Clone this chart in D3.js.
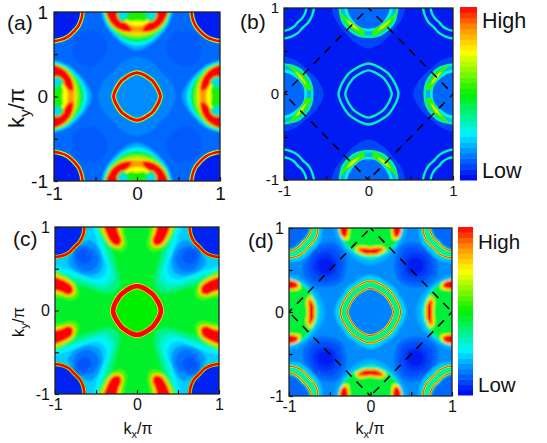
<!DOCTYPE html>
<html>
<head>
<meta charset="utf-8">
<script src="https://cdn.jsdelivr.net/npm/d3@7"></script>
<style>
  html, body { margin: 0; padding: 0; background: #fff; }
  text { font-family: "Liberation Sans", Arial, sans-serif; fill: #111; }
</style>
</head>
<body>
<div id="vis"></div>
<script>
// intensity scale of the colour bars
const stopLevels = [0, 0.13, 0.27, 0.5, 0.74, 0.88, 1];
const stopColors = ["#0000ee", "#0070ff", "#00f4ff", "#00f000", "#ffff00", "#ff9000", "#ff0000"];
const barLevels = d3.range(0, 32);

const tickValues = [-1, -0.5, 0, 0.5, 1];
const tickLabels = ["-1", "", "0", "", "1"];
const diamond = [[-1, 0], [0, 1], [1, 0], [0, -1]];

// contours, in k/pi units, one symmetric part of each
// ring: axis -> diagonal, pocket: axis -> frame, corner: diagonal -> frame
const ringA = [[0.282, 0], [0.261, 0.07], [0.227, 0.131], [0.186, 0.186]];
const glowA = [[0.47, 0], [0.43, 0.13], [0.36, 0.23], [0.29, 0.29]];
const cornerRingA = [[0.765, 0.765], [0.705, 0.835], [0.67, 0.92], [0.655, 1], [0.655, 1.06]];
const pocketA0 = [[0, 0.545], [0.14, 0.6], [0.28, 0.72], [0.38, 0.86], [0.44, 1.06]];
const pocketA1 = [[0, 0.6], [0.14, 0.64], [0.27, 0.74], [0.37, 0.86], [0.43, 1.06]];
const pocketA2 = [[0, 0.645], [0.14, 0.675], [0.26, 0.76], [0.355, 0.87], [0.41, 1.06]];
const pocketA3 = [[0, 0.69], [0.14, 0.715], [0.255, 0.78], [0.345, 0.88], [0.395, 1.06]];
const pocketA4 = [[0, 0.73], [0.13, 0.745], [0.245, 0.8], [0.335, 0.89], [0.38, 1.06]];
const pocketA5 = [[0, 0.76], [0.13, 0.765], [0.24, 0.81], [0.325, 0.9], [0.375, 1.06]];
const pocketA6 = [[0, 0.835], [0.09, 0.85], [0.17, 0.91], [0.235, 1.06]];
const pocketA7 = [[0, 0.9], [0.08, 0.89], [0.15, 0.93], [0.205, 1.06]];
const lobeA = [[0.07, 0.77], [0.2, 0.785], [0.32, 0.88], [0.38, 1.06], [0.25, 1.06], [0.19, 0.91], [0.09, 0.835]];
const holeA1 = [[0.17, 0.88], [0.24, 0.96], [0.17, 1.06], [0.09, 0.97]];
const holeA2 = [[0.17, 0.92], [0.215, 0.965], [0.17, 1.03], [0.125, 0.965]];
const darkA1 = [[0.55, 0.36], [0.75, 0.45], [0.72, 0.72], [0.45, 0.75], [0.36, 0.55]];

const ringB1 = [[0.355, 0], [0.33, 0.088], [0.288, 0.166], [0.236, 0.236]];
const ringB2 = [[0.275, 0], [0.255, 0.068], [0.222, 0.128], [0.182, 0.182]];
const cornerB1 = [[0.775, 0.775], [0.71, 0.835], [0.665, 0.92], [0.645, 1], [0.645, 1.06]];
const cornerB2 = [[0.835, 0.835], [0.785, 0.88], [0.75, 0.94], [0.735, 1], [0.735, 1.06]];
const pocketB0 = [[0, 0.53], [0.16, 0.6], [0.3, 0.74], [0.4, 0.88], [0.45, 1.06]];
const pocketB1 = [[0, 0.65], [0.13, 0.67], [0.24, 0.74], [0.32, 0.84], [0.365, 1.06]];
const pocketB2 = [[0, 0.68], [0.12, 0.7], [0.22, 0.765], [0.295, 0.86], [0.34, 1.06]];
const pocketB3 = [[0, 0.73], [0.1, 0.745], [0.19, 0.81], [0.265, 0.91], [0.295, 1.06]];
const pocketB4 = [[0, 0.76], [0.09, 0.775], [0.17, 0.84], [0.235, 0.94], [0.26, 1.06]];
const lobeB1 = [[0.05, 0.68], [0.17, 0.735], [0.28, 0.84], [0.33, 0.95], [0.25, 0.88], [0.14, 0.79], [0.05, 0.735]];
const lobeB2 = [[0.11, 0.74], [0.19, 0.78], [0.26, 0.86], [0.18, 0.81]];

const ringC = [[0.292, 0], [0.272, 0.073], [0.236, 0.136], [0.193, 0.193]];
const cornerRingC = [[0.76, 0.76], [0.695, 0.825], [0.655, 0.91], [0.64, 1], [0.64, 1.06]];
const wingC1 = [[0.25, 0.25], [0.36, 0.21], [0.52, 0.25], [0.8, 0.33], [1.06, 0.4]];
const wingC2 = [[0.31, 0.31], [0.41, 0.27], [0.56, 0.31], [0.82, 0.4], [1.06, 0.46]];
const wingC3 = [[0.36, 0.36], [0.46, 0.32], [0.62, 0.37], [0.85, 0.45], [1.06, 0.51]];
const wingC4 = [[0.41, 0.41], [0.51, 0.37], [0.68, 0.43], [0.88, 0.5], [1.06, 0.55]];
const blobC1 = [[0.46, 0.46], [0.6, 0.42], [0.76, 0.48], [0.84, 0.58], [0.74, 0.74], [0.58, 0.84], [0.48, 0.76], [0.42, 0.6]];
const blobC2 = [[0.51, 0.51], [0.62, 0.47], [0.74, 0.54], [0.76, 0.76], [0.54, 0.74], [0.47, 0.62]];
const blobC3 = [[0.58, 0.58], [0.66, 0.56], [0.74, 0.66], [0.66, 0.74], [0.56, 0.66]];
const lobeC0 = [[0.17, 0.72], [0.3, 0.74], [0.42, 0.88], [0.48, 1.06], [0.2, 1.06], [0.15, 0.9], [0.13, 0.8]];
const lobeC1 = [[0.2, 0.76], [0.3, 0.77], [0.385, 0.88], [0.43, 1.06], [0.24, 1.06], [0.19, 0.92], [0.17, 0.83]];
const lobeC2 = [[0.21, 0.785], [0.29, 0.79], [0.36, 0.885], [0.405, 1.06], [0.27, 1.06], [0.22, 0.92], [0.19, 0.85]];

const ringD0 = [[0.44, 0], [0.41, 0.11], [0.35, 0.2], [0.29, 0.29]];
const ringD1 = [[0.368, 0], [0.345, 0.092], [0.3, 0.173], [0.245, 0.245]];
const ringD2 = [[0.282, 0], [0.261, 0.07], [0.227, 0.131], [0.186, 0.186]];
const ringD3 = [[0.385, 0], [0.36, 0.096], [0.315, 0.18], [0.258, 0.258]];
const cornerD0 = [[0.72, 0.72], [0.655, 0.78], [0.61, 0.87], [0.59, 1], [0.59, 1.06]];
const cornerD1 = [[0.77, 0.77], [0.705, 0.83], [0.66, 0.91], [0.645, 1], [0.645, 1.06]];
const cornerD2 = [[0.83, 0.83], [0.78, 0.875], [0.74, 0.94], [0.725, 1], [0.725, 1.06]];
const cornerD3 = [[0.755, 0.755], [0.69, 0.815], [0.645, 0.895], [0.63, 1], [0.63, 1.06]];
const cornerD4 = [[0.845, 0.845], [0.8, 0.885], [0.76, 0.95], [0.745, 1], [0.745, 1.06]];
const pocketD0 = [[0, 0.56], [0.18, 0.62], [0.32, 0.76], [0.42, 0.9], [0.46, 1.06]];
const pocketD1 = [[0, 0.625], [0.14, 0.66], [0.27, 0.75], [0.36, 0.87], [0.41, 1.06]];
const pocketD2 = [[0, 0.655], [0.14, 0.685], [0.26, 0.77], [0.35, 0.88], [0.39, 1.06]];
const crescentD0 = [[0, 0.675], [0.1, 0.685], [0.19, 0.74], [0.13, 0.785], [0, 0.775], [-0.13, 0.785], [-0.19, 0.74], [-0.1, 0.685]];
const crescentD1 = [[0, 0.695], [0.08, 0.7], [0.15, 0.75], [0.07, 0.755], [0, 0.75], [-0.07, 0.755], [-0.15, 0.75], [-0.08, 0.7]];
const lobeD0 = [[0.28, 0.86], [0.35, 0.88], [0.385, 1.06], [0.27, 1.06], [0.26, 0.93]];
const lobeD1 = [[0.3, 0.89], [0.35, 0.91], [0.37, 1.06], [0.28, 1.06], [0.28, 0.95]];
const darkD1 = [[0.62, 0.3], [0.82, 0.44], [0.74, 0.74], [0.44, 0.82], [0.3, 0.62], [0.36, 0.36]];
const darkD2 = [[0.62, 0.36], [0.76, 0.46], [0.7, 0.7], [0.46, 0.76], [0.36, 0.62], [0.4, 0.4]];
const darkD3 = [[0.6, 0.42], [0.7, 0.5], [0.66, 0.66], [0.5, 0.7], [0.42, 0.6], [0.45, 0.45]];
const darkD4 = [[0.58, 0.46], [0.64, 0.52], [0.62, 0.62], [0.52, 0.64], [0.46, 0.58], [0.48, 0.48]];

// [kind, contour, intensity, line width in k units (none = filled)]
const layersA = [
  ["spot", darkA1, 0.105],
  ["ring", glowA, 0.15],
  ["corner", cornerRingA, 0.03],
  ["pocket", pocketA0, 0.19], ["pocket", pocketA1, 0.27], ["pocket", pocketA2, 0.45],
  ["pocket", pocketA3, 0.62], ["pocket", pocketA4, 0.78], ["pocket", pocketA5, 0.87],
  ["spot", lobeA, 1], ["pocket", pocketA6, 0.74], ["pocket", pocketA7, 0.52],
  ["spot", holeA1, 0.42], ["spot", holeA2, 0.24],
  ["ring", ringA, 0.16],
  ["ring", ringA, 0.4, 0.07], ["ring", ringA, 0.75, 0.05], ["ring", ringA, 1, 0.036],
  ["corner", cornerRingA, 0.4, 0.06], ["corner", cornerRingA, 0.75, 0.045], ["corner", cornerRingA, 1, 0.031]
];
const layersB = [
  ["pocket", pocketB0, 0.08], ["pocket", pocketB1, 0.36], ["pocket", pocketB2, 0.2],
  ["pocket", pocketB3, 0.31], ["pocket", pocketB4, 0.12],
  ["spot", lobeB1, 0.55], ["spot", lobeB2, 0.72],
  ["corner", cornerB1, 0.33, 0.028], ["corner", cornerB2, 0.33, 0.028],
  ["ring", ringB1, 0.33, 0.028], ["ring", ringB2, 0.33, 0.028]
];
const layersC = [
  ["corner", wingC1, 0.38], ["corner", wingC2, 0.32], ["corner", wingC3, 0.27], ["corner", wingC4, 0.23],
  ["spot", blobC1, 0.17], ["spot", blobC2, 0.13], ["spot", blobC3, 0.1],
  ["corner", cornerRingC, 0.04],
  ["spot", lobeC0, 0.58], ["spot", lobeC1, 0.78], ["spot", lobeC2, 1],
  ["ring", ringC, 0.5],
  ["ring", ringC, 0.75, 0.075], ["ring", ringC, 1, 0.058],
  ["corner", cornerRingC, 0.5, 0.055], ["corner", cornerRingC, 0.78, 0.042], ["corner", cornerRingC, 1, 0.031]
];
const layersD = [
  ["spot", darkD1, 0.12], ["spot", darkD2, 0.09], ["spot", darkD3, 0.06], ["spot", darkD4, 0.03],
  ["corner", cornerD0, 0.22], ["corner", cornerD3, 0.36], ["corner", cornerD4, 0.12],
  ["pocket", pocketD0, 0.2], ["pocket", pocketD1, 0.3], ["pocket", pocketD2, 0.45],
  ["spot", crescentD0, 0.78], ["spot", crescentD1, 1],
  ["spot", lobeD0, 0.76], ["spot", lobeD1, 1],
  ["ring", ringD0, 0.23], ["ring", ringD3, 0.38],
  ["ring", ringD2, 0.15],
  ["ring", ringD1, 0.75, 0.024], ["ring", ringD1, 0.98, 0.011],
  ["ring", ringD2, 0.75, 0.024], ["ring", ringD2, 0.98, 0.011],
  ["corner", cornerD1, 0.75, 0.024], ["corner", cornerD1, 0.98, 0.011],
  ["corner", cornerD2, 0.75, 0.024], ["corner", cornerD2, 0.98, 0.011]
];

const panels = [
  { name: "(a)", layers: layersA, base: 0.12, x: [54, 220], y: [181, 12], font: 19, pad: 6, lx: 7, ly: 30, blur: 0.85, edge: 0.7 },
  { name: "(b)", layers: layersB, base: 0.03, x: [284, 453], y: [180, 8], font: 15, pad: 5, lx: 240, ly: 29, blur: 0.7, edge: 0.5, dash: true },
  { name: "(c)", layers: layersC, base: 0.46, x: [55, 219], y: [394, 227], font: 16, pad: 5, lx: 13, ly: 246, blur: 1.1, edge: 0.7, xlabel: 138 },
  { name: "(d)", layers: layersD, base: 0.16, x: [289, 452], y: [396, 228], font: 16, pad: 5, lx: 248, ly: 248, blur: 1, edge: 0.5, dash: true, xlabel: 370 }
];
const bars = [
  { x: [460, 477], y: [180, 7], high: [482, 28], low: [482, 178], font: 21.5 },
  { x: [458, 473], y: [395, 227], high: [478, 249], low: [478, 392], font: 20.5 }
];

const color = d3.scaleLinear().domain(stopLevels).range(stopColors);

const svg = d3.select("#vis").append("svg").attr("width", 547).attr("height", 443);
const defs = svg.append("defs");

const rev = a => a.slice().reverse();
const swap = ([a, b]) => [b, a];

// contours come as one symmetric part, expand them to the whole zone
function expand(kind, pts) {
  if (kind === "ring") {
    const q1 = pts.concat(rev(pts).map(swap).slice(1));
    const upper = q1.concat(rev(q1).slice(1).map(([a, b]) => [-a, b]));
    return [{ pts: upper.concat(rev(upper).slice(1, -1).map(([a, b]) => [a, -b])), closed: true }];
  }
  if (kind === "pocket") {
    const full = rev(pts).map(([a, b]) => [-a, b]).concat(pts.slice(1));
    return [
      full,
      full.map(([a, b]) => [a, -b]),
      full.map(([a, b]) => [b, a]),
      full.map(([a, b]) => [-b, a])
    ].map(p => ({ pts: p }));
  }
  if (kind === "corner") {
    const full = rev(pts).map(swap).concat(pts.slice(1));
    return [[1, 1], [-1, 1], [1, -1], [-1, -1]].map(([sx, sy]) => ({
      pts: full.map(([a, b]) => [sx * a, sy * b]),
      tip: [sx * 1.3, sy * 1.3]
    }));
  }
  // spot: all eight mirror images
  const out = [];
  [pts, pts.map(swap)].forEach(p => {
    [[1, 1], [-1, 1], [1, -1], [-1, -1]].forEach(([sx, sy]) => {
      out.push({ pts: p.map(([a, b]) => [sx * a, sy * b]), closed: true });
    });
  });
  return out;
}

function softFilter(id, p, w, h, amount) {
  defs.append("filter").attr("id", id)
    .attr("filterUnits", "userSpaceOnUse")
    .attr("x", p.x[0] - 20).attr("y", p.y[1] - 20).attr("width", w + 40).attr("height", h + 40)
    .append("feGaussianBlur").attr("stdDeviation", amount);
}

panels.forEach((p, i) => {
  const x = d3.scaleLinear().domain([-1, 1]).range(p.x);
  const y = d3.scaleLinear().domain([-1, 1]).range(p.y);
  const w = p.x[1] - p.x[0];
  const h = p.y[0] - p.y[1];

  defs.append("clipPath").attr("id", "clip" + i).append("rect")
    .attr("x", p.x[0]).attr("y", p.y[1]).attr("width", w).attr("height", h);
  softFilter("soft" + i, p, w, h, p.blur);
  softFilter("edge" + i, p, w, h, p.edge);

  const open = d3.line().x(d => x(d[0])).y(d => y(d[1])).curve(d3.curveCatmullRom);
  const closed = d3.line().x(d => x(d[0])).y(d => y(d[1])).curve(d3.curveCatmullRomClosed);

  const plot = svg.append("g").attr("clip-path", `url(#clip${i})`);
  const fills = plot.append("g").attr("filter", `url(#soft${i})`);
  const lines = plot.append("g").attr("filter", `url(#edge${i})`);
  fills.append("rect")
    .attr("x", p.x[0] - 15).attr("y", p.y[1] - 15).attr("width", w + 30).attr("height", h + 30)
    .attr("fill", color(p.base));

  p.layers.forEach(([kind, pts, level, lw]) => {
    expand(kind, pts).forEach(c => {
      let d = (c.closed ? closed : open)(c.pts);
      if (lw) {
        lines.append("path").attr("d", d).attr("fill", "none")
          .attr("stroke", color(level)).attr("stroke-width", lw * w / 2);
      } else {
        if (c.tip) d += `L${x(c.tip[0])},${y(c.tip[1])}Z`;
        fills.append("path").attr("d", d).attr("fill", color(level));
      }
    });
  });

  // dashed zone boundary
  if (p.dash) {
    const edge = d3.line().x(d => x(d[0])).y(d => y(d[1]));
    const dashes = svg.append("g").attr("clip-path", `url(#clip${i})`);
    diamond.forEach((a, k) => {
      dashes.append("path").attr("d", edge([a, diamond[(k + 1) % 4]]))
        .attr("fill", "none").attr("stroke", "#000").attr("stroke-width", 1.5)
        .attr("stroke-dasharray", "8.5 7").attr("stroke-dashoffset", 4);
    });
  }

  // Axes
  const fmt = d => tickLabels[tickValues.indexOf(d)];
  const gx = svg.append("g").attr("transform", `translate(0,${p.y[0]})`)
    .call(d3.axisBottom(x).tickValues(tickValues).tickFormat(fmt).tickSize(-4).tickPadding(p.pad));
  const gy = svg.append("g").attr("transform", `translate(${p.x[0]},0)`)
    .call(d3.axisLeft(y).tickValues(tickValues).tickFormat(fmt).tickSize(-4).tickPadding(p.pad));
  [gx, gy].forEach(g => {
    g.select(".domain").remove();
    g.selectAll("line").attr("stroke", "#111").attr("stroke-width", 1.2);
    g.selectAll("text").attr("font-size", p.font).style("font-family", '"Liberation Sans", Arial, sans-serif');
  });

  svg.append("rect").attr("x", p.x[0]).attr("y", p.y[1]).attr("width", w).attr("height", h)
    .attr("fill", "none").attr("stroke", "#222").attr("stroke-width", 1.3);

  svg.append("text").attr("x", p.lx).attr("y", p.ly).attr("font-size", 21).text(p.name);

  if (p.xlabel) {
    const t = svg.append("text").attr("x", p.xlabel).attr("y", 434).attr("text-anchor", "middle").attr("font-size", 16);
    t.append("tspan").text("k");
    t.append("tspan").attr("font-size", 11).attr("dy", 4).text("x");
    t.append("tspan").attr("dy", -4).text("/π");
  }
});

// y labels
const yLabels = [
  { x: 24, y: 108, font: 22 },
  { x: 24, y: 322, font: 16.5 }
];
yLabels.forEach(l => {
  const t = svg.append("text").attr("transform", `translate(${l.x},${l.y}) rotate(-90)`)
    .attr("text-anchor", "middle").attr("font-size", l.font);
  t.append("tspan").text("k");
  t.append("tspan").attr("font-size", l.font * 0.7).attr("dy", l.font * 0.25).text("y");
  t.append("tspan").attr("dy", -l.font * 0.25).text("/π");
});

// colour bars
bars.forEach(b => {
  const band = d3.scaleBand().domain(barLevels).range(b.y);
  const g = svg.append("g");
  g.selectAll("rect").data(barLevels).join("rect")
    .attr("x", b.x[0]).attr("width", b.x[1] - b.x[0])
    .attr("y", d => band(d)).attr("height", band.bandwidth() + 0.5)
    .attr("fill", d => color((d + 0.5) / barLevels.length));
  svg.append("text").attr("x", b.high[0]).attr("y", b.high[1]).attr("font-size", b.font).text("High");
  svg.append("text").attr("x", b.low[0]).attr("y", b.low[1]).attr("font-size", b.font).text("Low");
});
</script>
</body>
</html>
